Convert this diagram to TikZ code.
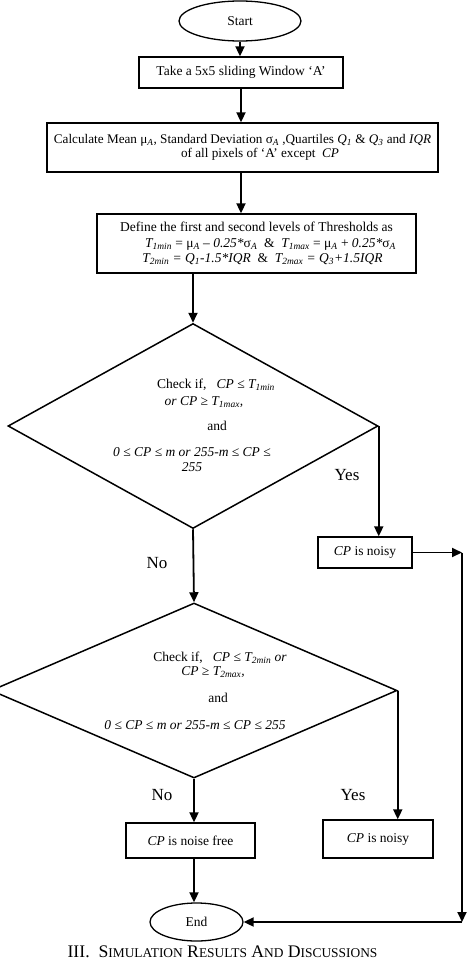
\documentclass[tikz,border=0pt]{standalone}
\usepackage{fontspec}
\setmainfont{Liberation Serif}
\usetikzlibrary{shapes.geometric, arrows.meta}

\newcommand{\sbs}[1]{\textsubscript{\itshape #1}}
\newcommand{\lowcaps}[1]{{\fontsize{13.4}{14}\selectfont #1}}

\begin{document}
\begin{tikzpicture}[x=1pt,y=-1pt,
  flowbox/.style={draw=black, line width=1.3pt, rectangle, inner sep=2pt, align=center, font=\fontsize{13.5}{15.5}\selectfont},
  terminal/.style={draw=black, line width=1.3pt, ellipse, inner sep=0pt, font=\fontsize{13.5}{15}\selectfont},
  decision/.style={draw=black, line width=1.5pt, diamond, inner sep=0pt},
  linetext/.style={inner sep=0pt, font=\fontsize{13.5}{15}\selectfont},
  branch/.style={inner sep=0pt, font=\fontsize{17}{17}\selectfont},
  flow/.style={-{Triangle[length=10pt,width=9pt]}, line width=1.8pt}]
\useasboundingbox (0,0) rectangle (474,961);
% terminals and process boxes
\node[terminal, minimum width=122pt, minimum height=40pt] (start) at (240,21) {Start};
\node[flowbox, minimum width=204pt, minimum height=31pt] (window) at (241,72.5) {Take a 5x5 sliding Window ‘A’};
\node[flowbox, minimum width=391pt, minimum height=49pt, font=\fontsize{13.2}{14.5}\selectfont] (stats) at (242.5,147.5) {Calculate Mean μ\sbs{A}, Standard Deviation σ\sbs{A} ,Quartiles \textit{Q\sbs{1}} \& \textit{Q\sbs{3}} and \textit{IQR}\\ \hspace*{35pt}of all pixels of ‘A’ except \ \textit{CP}};
\node[flowbox, minimum width=319pt, minimum height=59pt] (thresh) at (256.5,243.5) {Define the first and second levels of Thresholds as\\ \hspace*{28pt}\textit{T\sbs{1min}} = μ\sbs{A} – \textit{0.25*}σ\sbs{A} \ \& \ \textit{T\sbs{1max}} = μ\sbs{A} + \textit{0.25*}σ\sbs{A}\\ \hspace*{12pt}\textit{T\sbs{2min} = Q\sbs{1}-1.5*IQR} \ \& \ \textit{T\sbs{2max} = Q\sbs{3}+1.5IQR}};
% first check
\node[decision, minimum width=370pt, minimum height=205pt] (check1) at (193,426) {};
\node[linetext] (c1a) at (216,385) {Check if, \ \ \textit{CP ≤ T\sbs{1min}}};
\node[linetext] (c1b) at (204,402) {\textit{or CP ≥ T\sbs{1max},}};
\node[linetext] (c1c) at (217,426) {and};
\node[linetext] (c1d) at (192,452) {\textit{0 ≤ CP ≤ m or 255-m ≤ CP ≤}};
\node[linetext] (c1e) at (192,467) {\textit{255}};
\node[flowbox, minimum width=94pt, minimum height=31pt] (noisy1) at (365,552.5) {\textit{CP} is noisy};
% second check
\node[decision, minimum width=406pt, minimum height=175pt] (check2) at (194,690.5) {};
\node[linetext] (c2a) at (220,658) {Check if, \ \ \textit{CP ≤ T\sbs{2min} or}};
\node[linetext] (c2b) at (213,672) {\textit{CP ≥ T\sbs{2max},}};
\node[linetext] (c2c) at (218,698) {and};
\node[linetext] (c2d) at (195,725) {\textit{0 ≤ CP ≤ m or 255-m ≤ CP ≤ 255}};
\node[flowbox, minimum width=129pt, minimum height=35pt] (free) at (190.5,840.5) {\textit{CP} is noise free};
\node[flowbox, minimum width=110pt, minimum height=38pt] (noisy2) at (378,839) {\textit{CP} is noisy};
\node[terminal, minimum width=93pt, minimum height=38pt] (end) at (196.5,922) {End};
\coordinate (turn1) at (462,552.5);
\coordinate (turn2) at (462,922);
% branch labels
\node[branch] (yes1) at (347,475) {Yes};
\node[branch] (no1) at (157,563) {No};
\node[branch] (yes2) at (353,795) {Yes};
\node[branch] (no2) at (162,795) {No};
% connectors
\draw[flow] (start.south) -- (start.south |- window.north);
\draw[flow] (window.south) -- (window.south |- stats.north);
\draw[flow] (window.south |- stats.south) -- (window.south |- thresh.north);
\draw[flow] (check1.north |- thresh.south) -- (check1.north);
\draw[flow] (check1.east) -- (check1.east |- noisy1.north);
\draw[flow] (check1.south) -- (check2.north);
\draw[flow] (noisy1.east) -- (turn1);
\draw[flow] (turn1) -- (turn2);
\draw[flow] (turn2) -- (end.east);
\draw[flow] (check2.east) -- (check2.east |- noisy2.north);
\draw[flow] (check2.south) -- (check2.south |- free.north);
\draw[flow] (check2.south |- free.south) -- (check2.south |- end.north);
% section heading below the chart
\node[inner sep=0pt, anchor=base, font=\fontsize{17.7}{18}\selectfont] (heading) at (222.5,957) {III.\ \ S\lowcaps{IMULATION} R\lowcaps{ESULTS} A\lowcaps{ND} D\lowcaps{ISCUSSIONS}};
\end{tikzpicture}
\end{document}
